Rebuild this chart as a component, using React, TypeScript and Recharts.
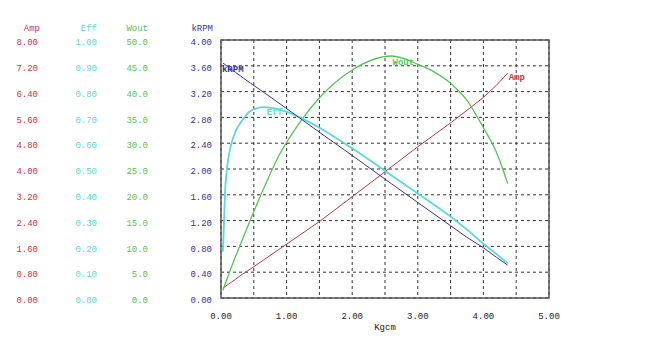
import React from 'react';
import { LineChart, Line, XAxis, YAxis, CartesianGrid, ReferenceArea } from 'recharts';

// torque points (Kgcm) and the readings at each
const torque = [0.03, 0.06, 0.1, 0.15, 0.22, 0.3, 0.45, 0.65, 0.9, 1.2, 1.5, 2.0, 2.6, 3.0, 3.5, 3.75, 4.0, 4.2, 4.37];
const kRpm = [3.64, 3.62, 3.59, 3.55, 3.5, 3.44, 3.33, 3.19, 3.01, 2.79, 2.57, 2.21, 1.77, 1.48, 1.12, 0.94, 0.78, 0.63, 0.51];
const amps = [0.3, 0.35, 0.41, 0.48, 0.58, 0.7, 0.9, 1.18, 1.53, 1.95, 2.37, 3.14, 4.07, 4.69, 5.43, 5.82, 6.22, 6.6, 6.97];
const eff = [0.18, 0.4, 0.52, 0.59, 0.645, 0.68, 0.725, 0.74, 0.73, 0.7, 0.66, 0.58, 0.475, 0.405, 0.315, 0.265, 0.21, 0.17, 0.134];
const wout = [1.5, 2.6, 4.0, 5.7, 8.0, 10.5, 15.2, 21.2, 28.0, 34.0, 38.8, 44.2, 46.9, 45.3, 41.6, 38.3, 33.0, 28.2, 22.2];

const torqueTicks = [0, 0.5, 1, 1.5, 2, 2.5, 3, 3.5, 4, 4.5, 5];
const ampTicks = [0, 0.8, 1.6, 2.4, 3.2, 4, 4.8, 5.6, 6.4, 7.2, 8];
const effTicks = [0, 0.1, 0.2, 0.3, 0.4, 0.5, 0.6, 0.7, 0.8, 0.9, 1];
const woutTicks = [0, 5, 10, 15, 20, 25, 30, 35, 40, 45, 50];
const rpmTicks = [0, 0.4, 0.8, 1.2, 1.6, 2, 2.4, 2.8, 3.2, 3.6, 4];

const data = torque.map((t, i) => ({ t, rpm: kRpm[i], amp: amps[i], eff: eff[i], wout: wout[i] }));

const FONT = '"Liberation Mono", "DejaVu Sans Mono", monospace';
const RED = '#cc3344';
const CYAN = '#5cd8d8';
const GREEN = '#55c455';
const BLUE = '#33339a';

// axis ids sort so that kRPM sits next to the plot, Amp furthest out
const RPM_ID = 'a_rpm';
const WOUT_ID = 'b_wout';
const EFF_ID = 'c_eff';
const AMP_ID = 'd_amp';

const axisTitle = (text: string, color: string, inset: number) => (props: any) => {
  const vb = props.viewBox;
  return (
    <text x={vb.x + vb.width - inset} y={vb.y - 9} textAnchor="end" fill={color} fontSize={9} fontFamily={FONT}>
      {text}
    </text>
  );
};

const curveTag = (text: string, color: string, at: number, dx: number, dy: number) => (props: any) => {
  if (props.index !== at) return null;
  return (
    <text x={props.x + dx} y={props.y + dy} fill={color} fontSize={9} fontFamily={FONT} fontWeight="bold">
      {text}
    </text>
  );
};

export default function App() {
  const tickStyle = (fill: string, dy = 0) => ({ fill, fontSize: 9, fontFamily: FONT, dy });
  return (
    <div style={{ position: 'absolute', left: 0, top: 0, background: '#fff' }}>
      <LineChart width={650} height={352} data={data} margin={{ top: 40, right: 101, bottom: 14, left: 0 }}>
        <CartesianGrid yAxisId={RPM_ID} stroke="#333" strokeDasharray="3 3" />
        <XAxis
          dataKey="t"
          type="number"
          domain={[0, 5]}
          ticks={torqueTicks}
          interval={0}
          tickFormatter={(v: number) => (Number.isInteger(v) ? v.toFixed(2) : '')}
          axisLine={false}
          tickLine={false}
          tickSize={0}
          tickMargin={15}
          height={40}
          tick={tickStyle('#222')}
          label={(props: any) => (
            <text x={props.viewBox.x + props.viewBox.width / 2} y={props.viewBox.y + 32} textAnchor="middle" fill="#222" fontSize={9} fontFamily={FONT}>
              Kgcm
            </text>
          )}
        />
        <YAxis yAxisId={RPM_ID} domain={[0, 4]} ticks={rpmTicks} interval={0} width={73} axisLine={false} tickLine={false} tickSize={0} tickMargin={9}
          tickFormatter={(v: number) => v.toFixed(2)} tick={tickStyle(BLUE, 2)} label={axisTitle('kRPM', BLUE, 8)} />
        <YAxis yAxisId={WOUT_ID} domain={[0, 50]} ticks={woutTicks} interval={0} width={51} axisLine={false} tickLine={false} tickSize={0} tickMargin={0}
          tickFormatter={(v: number) => v.toFixed(1)} tick={tickStyle(GREEN, 2)} label={axisTitle('Wout', GREEN, 0)} />
        <YAxis yAxisId={EFF_ID} domain={[0, 1]} ticks={effTicks} interval={0} width={59} axisLine={false} tickLine={false} tickSize={0} tickMargin={0}
          tickFormatter={(v: number) => v.toFixed(2)} tick={tickStyle(CYAN, 2)} label={axisTitle('Eff', CYAN, 0)} />
        <YAxis yAxisId={AMP_ID} domain={[0, 8]} ticks={ampTicks} interval={0} width={38} axisLine={false} tickLine={false} tickSize={0} tickMargin={0}
          tickFormatter={(v: number) => v.toFixed(2)} tick={tickStyle(RED, 2)} label={axisTitle('Amp', RED, -2)} />
        <ReferenceArea yAxisId={RPM_ID} x1={0} x2={5} y1={0} y2={4} fill="none" stroke="#555" strokeWidth={1.5} />
        <Line yAxisId={AMP_ID} dataKey="amp" type="linear" stroke="#b83848" strokeWidth={1} dot={false} isAnimationActive={false}
          label={curveTag('Amp', RED, torque.length - 1, 1, 7)} />
        <Line yAxisId={WOUT_ID} dataKey="wout" type="monotone" stroke={GREEN} strokeWidth={1.3} dot={false} isAnimationActive={false}
          label={curveTag('Wout', GREEN, 12, 1, 9)} />
        <Line yAxisId={EFF_ID} dataKey="eff" type="monotone" stroke={CYAN} strokeWidth={1.8} dot={false} isAnimationActive={false}
          label={curveTag('Eff', CYAN, 7, 3, 8)} />
        <Line yAxisId={RPM_ID} dataKey="rpm" type="linear" stroke={BLUE} strokeWidth={1} dot={false} isAnimationActive={false}
          label={curveTag('kRPM', BLUE, 0, -1, 9)} />
      </LineChart>
    </div>
  );
}
